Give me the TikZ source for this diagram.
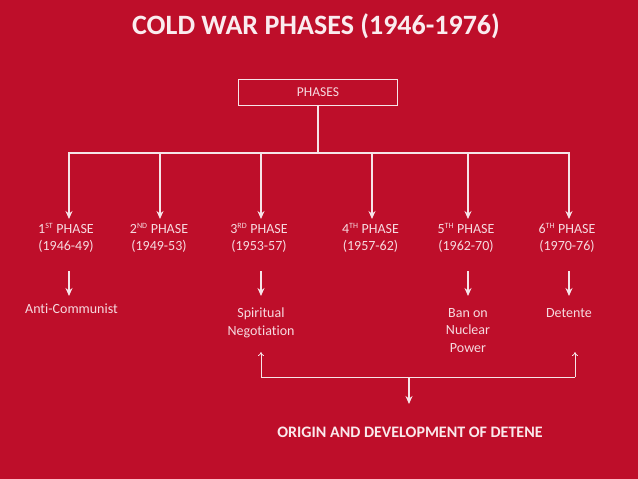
\documentclass[tikz,border=0pt]{standalone}
\usepackage{fontspec}
\setmainfont[Ligatures=NoCommon]{Carlito}
\usetikzlibrary{arrows.meta}
\definecolor{bg}{RGB}{190,14,42}
\definecolor{ln}{RGB}{246,228,232}
\definecolor{tx}{RGB}{246,218,224}
\tikzset{
  lbl/.style={text=tx, font=\fontsize{14}{17.5}\selectfont, align=center, inner sep=0pt},
  thick arrow/.style={draw=ln, line width=1.6pt, -{Stealth[length=8pt,width=7pt]}},
  thin arrow/.style={draw=ln, line width=0.8pt, -{To[length=4pt,width=6pt]}},
  wire/.style={draw=ln, line width=1.6pt},
}
\newcommand{\sups}[1]{\textsuperscript{\fontsize{8}{8}\selectfont #1}}
\begin{document}
\begin{tikzpicture}[x=1pt,y=-1pt]
\fill[bg] (0,0) rectangle (638,479);
\useasboundingbox (0,0) rectangle (638,479);
% title
\node (title) [text=tx!50!white, font=\fontsize{28}{32}\bfseries\selectfont, inner sep=0pt] at (316,26) {COLD WAR PHASES (1946-1976)};
% phases box
\node (ph) [draw=ln, line width=1pt, minimum width=159pt, minimum height=26pt, text=tx, font=\fontsize{13.5}{16}\selectfont, inner sep=0pt] at (318,92) {PHASES};
\coordinate (bus) at (318,153);
\coordinate (bl) at (69,153);
\coordinate (br) at (569,153);
\draw[wire] (ph.south) -- (bus);
\draw[wire, line cap=rect] (bl) -- (br);
% phase tops
\foreach \n/\x in {a/69,b/160,c/261,d/372,e/468,f/569}{
  \coordinate (t\n) at (\x,153);
  \coordinate (h\n) at (\x,219);
}
\foreach \n in {a,b,c,d,e,f}{ \draw[thick arrow] (t\n) -- (h\n); }
% phase labels
\node (pa) [lbl] at (66,238) {1\sups{ST} PHASE\\(1946-49)};
\node (pb) [lbl] at (159,238) {2\sups{ND} PHASE\\(1949-53)};
\node (pc) [lbl] at (259,238) {3\sups{RD} PHASE\\(1953-57)};
\node (pd) [lbl] at (370.5,238) {4\sups{TH} PHASE\\(1957-62)};
\node (pe) [lbl] at (466,238) {5\sups{TH} PHASE\\(1962-70)};
\node (pf) [lbl] at (567,238) {6\sups{TH} PHASE\\(1970-76)};
% second arrows
\foreach \n/\x in {a/69,c/261,e/468,f/569}{
  \coordinate (s\n) at (\x,271);
  \coordinate (u\n) at (\x,296);
  \draw[thick arrow] (s\n) -- (u\n);
}
\node (ra) [lbl, anchor=north] at (71.5,304) {Anti-Communist};
\node (rc) [lbl, anchor=north] at (261,308) {Spiritual\\Negotiation};
\node (re) [lbl, anchor=north] at (468,308) {Ban on\\Nuclear\\Power};
\node (rf) [lbl, anchor=north] at (569,308) {Detente};
% bottom connector
\coordinate (bc1) at (261,377);
\coordinate (bc2) at (575,377);
\coordinate (bu1) at (261,352);
\coordinate (bu2) at (575,352);
\coordinate (bm) at (409,377);
\coordinate (bd) at (409,404);
\draw[thin arrow] (bc1) -- (bu1);
\draw[thin arrow] (bc2) -- (bu2);
\draw[draw=ln, line width=0.8pt] (bc1) -- (bc2);
\draw[thick arrow] (bm) -- (bd);
\node (orig) [text=tx!60!white, font=\fontsize{16}{19}\bfseries\selectfont, inner sep=0pt] at (410,432) {ORIGIN AND DEVELOPMENT OF DETENE};
\end{tikzpicture}
\end{document}
